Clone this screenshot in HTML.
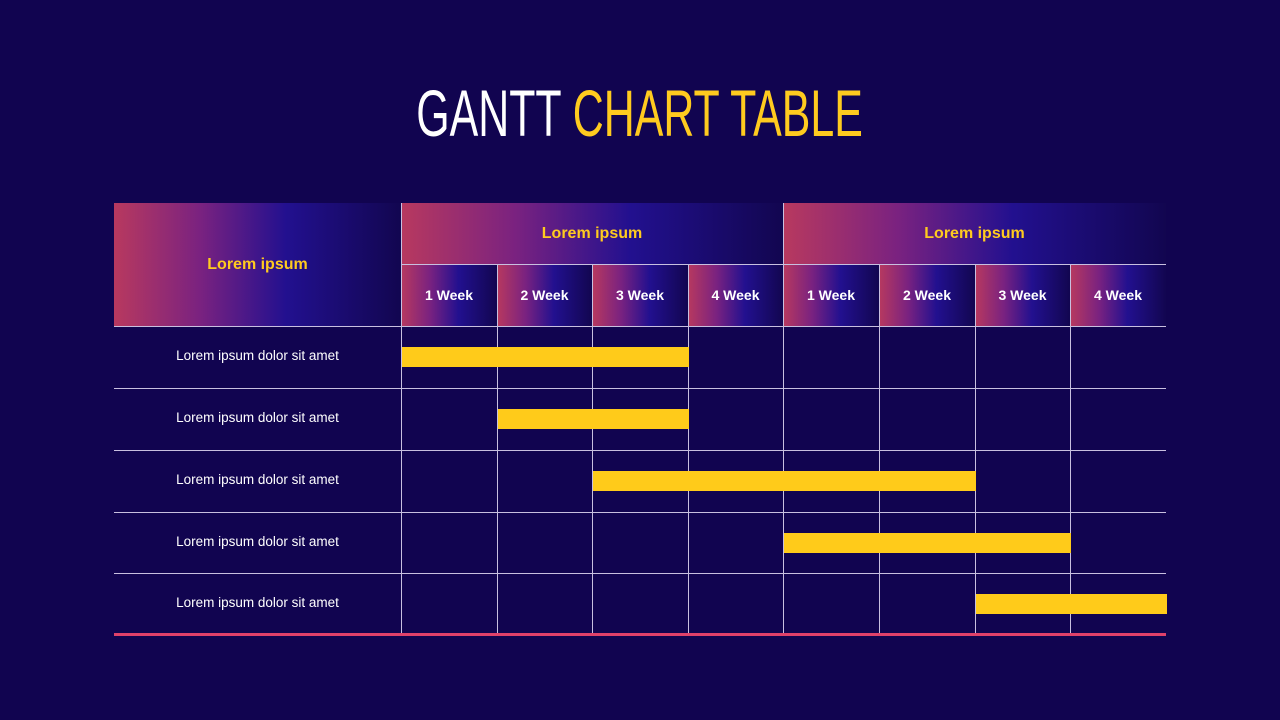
<!DOCTYPE html>
<html><head><style>
body{margin:0;width:1280px;height:720px;background:#110450;position:relative;overflow:hidden;font-family:"Liberation Sans",sans-serif}
.a{position:absolute}
.g{background:linear-gradient(90deg,#b8395f 0%,#7a2280 30%,#22108f 60%,#120650 100%)}
.t{position:absolute;left:0;width:1280px;top:78px;text-align:center;font-size:66px;color:#fff;line-height:70px}
.t>span{display:inline-block;transform:scaleX(0.65)}
.hd{color:#ffcb1f;font-weight:bold;font-size:16px;display:flex;align-items:center;justify-content:center}
.wk{color:#fff;font-weight:bold;font-size:14px;display:flex;align-items:center;justify-content:center}
.hl{height:1px;background:#c8c0e0}
.vl{width:1px;background:#c8c0e0}
.lb{color:#fff;font-size:13.5px;width:287px;left:114px;text-align:center;height:20px;line-height:20px}
.bar{background:#ffcb1a;height:20px}
</style></head><body>
<div class="t"><span>GANTT <span style="color:#ffcb1f">CHART TABLE</span></span></div>
<div class="a g hd" style="left:114px;top:203px;width:287px;height:123px">Lorem ipsum</div>
<div class="a g hd" style="left:401px;top:203px;width:382px;height:61px">Lorem ipsum</div>
<div class="a g hd" style="left:783px;top:203px;width:383px;height:61px">Lorem ipsum</div>
<div id="wk"></div>
<script>
var xs=[401,497,592,688,783,879,975,1070,1166],h='';
for(var i=0;i<8;i++){h+='<div class="a g wk" style="left:'+xs[i]+'px;top:264px;width:'+(xs[i+1]-xs[i])+'px;height:62px">'+(i%4+1)+' Week</div>';}
var ys=[326,388,450,512,573,635];
for(var r=0;r<5;r++){h+='<div class="a lb" style="top:'+((ys[r]+ys[r+1])/2-11)+'px">Lorem ipsum dolor sit amet</div>';}
for(var r=0;r<5;r++){h+='<div class="a hl" style="left:114px;width:1052px;top:'+ys[r]+'px"></div>';}
h+='<div class="a hl" style="left:401px;width:765px;top:264px"></div>';
for(var i=0;i<8;i++){var t=(i==0||i==4)?203:264;h+='<div class="a vl" style="left:'+xs[i]+'px;top:'+t+'px;height:'+(635-t)+'px"></div>';}
var b=[[0,3],[1,3],[2,6],[4,7],[6,8]];
for(var r=0;r<5;r++){var y=Math.round((ys[r]+ys[r+1])/2-10);h+='<div class="a bar" style="left:'+(xs[b[r][0]]+1)+'px;width:'+(xs[b[r][1]]-xs[b[r][0]])+'px;top:'+y+'px"></div>';}
h+='<div class="a" style="left:114px;width:1052px;top:633px;height:3px;background:#e0416a"></div>';
document.getElementById('wk').innerHTML=h;
</script>
</body></html>
